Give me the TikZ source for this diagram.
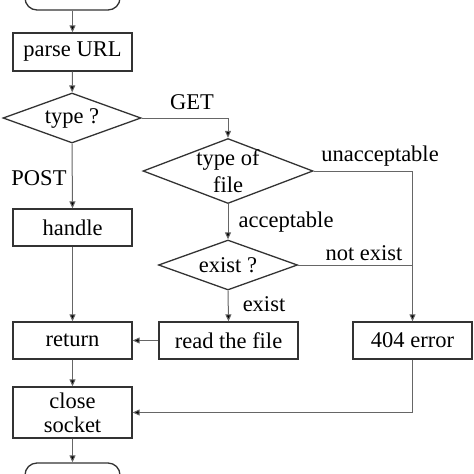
\documentclass[tikz,border=0pt]{standalone}
\usepackage{fontspec}
\setmainfont{Liberation Serif}
\usetikzlibrary{shapes.geometric,arrows.meta}
\definecolor{boxc}{HTML}{333333}
\definecolor{linec}{HTML}{666666}
\begin{document}
\begin{tikzpicture}[x=1pt,y=-1pt,
  font=\fontsize{22.5}{27}\selectfont,
  box/.style={draw=boxc, line width=1.3pt, minimum width=119pt, minimum height=37pt, inner sep=0pt, align=center},
  term/.style={draw=boxc, line width=1.3pt, minimum width=95pt, minimum height=40pt, rounded corners=12pt, inner sep=0pt},
  dia/.style={draw=boxc, diamond, line width=1.3pt, inner sep=0pt},
  arr/.style={draw=linec, line width=1pt, -{Triangle[length=7pt,width=6pt,fill=black]}},
  ln/.style={draw=linec, line width=1pt},
  lab/.style={inner sep=0pt}]
\useasboundingbox (0,0) rectangle (474,474);
\node[term] (top) at (72.5,-10) {};
\node[box, minimum height=38pt] (parse) at (72.5,52) {parse URL};
\node[dia, minimum width=138pt, minimum height=50pt, label={center:type ?}] (type) at (72,118) {};
\node[dia, minimum width=170pt, minimum height=65pt, label={[align=center]center:type of\\file}] (tof) at (228,171) {};
\node[box] (handle) at (72.5,227.5) {handle};
\node[dia, minimum width=139pt, minimum height=50pt, label={center:exist ?}] (exist) at (228,265) {};
\node[box, minimum width=139pt] (read) at (228.5,340.5) {read the file};
\node[box] (err) at (412.5,340.5) {404 error};
\node[box] (ret) at (72.5,340.5) {return};
\node[box, minimum height=51pt] (close) at (72.5,412.5) {close\\[-3pt]socket};
\node[term] (bot) at (72.5,483) {};
\node[lab] (lget) at (192,102) {GET};
\node[lab] (lpost) at (39,178) {POST};
\node[lab] (lunacc) at (380,156) {unacceptable};
\node[lab] (lacc) at (286,222) {acceptable};
\node[lab] (lnot) at (364,253) {not exist};
\node[lab] (lexist) at (264,304) {exist};
\draw[arr] (top) -- (parse);
\draw[arr] (parse) -- (type);
\draw[arr] (type.east) -| (tof.north);
\draw[arr] (type.south) -- (handle.north);
\draw[arr] (tof.south) -- (exist.north);
\draw[arr] (tof.east) -| (err.north);
\draw[ln] (exist.east) -- (err.north |- exist.east);
\draw[arr] (exist.south) -- (read.north);
\draw[arr] (handle) -- (ret);
\draw[arr] (read.west) -- (ret.east);
\draw[arr] (ret) -- (close);
\draw[arr] (err.south) |- (close.east);
\draw[arr] (close) -- (bot);
\end{tikzpicture}
\end{document}
